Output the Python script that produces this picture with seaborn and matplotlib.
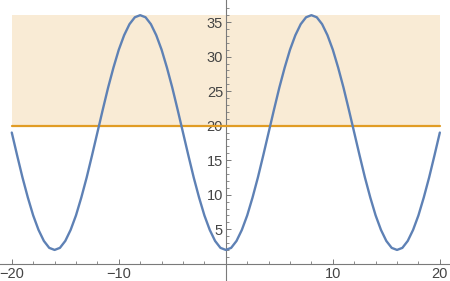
import matplotlib
matplotlib.use("Agg")
import matplotlib.pyplot as plt
import seaborn as sns
import numpy as np
import pandas as pd
from matplotlib.ticker import FixedLocator

# Curve samples, x from -20 to 20 in steps of 0.5
x_start, x_step = -20.0, 0.5
curve_y = [
    19.0, 15.7, 12.5, 9.6, 7.0, 4.9, 3.3, 2.3, 2.0, 2.3, 3.3, 4.9, 7.0, 9.6, 12.5, 15.7,
    19.0, 22.3, 25.5, 28.4, 31.0, 33.1, 34.7, 35.7, 36.0, 35.7, 34.7, 33.1, 31.0, 28.4, 25.5, 22.3,
    19.0, 15.7, 12.5, 9.6, 7.0, 4.9, 3.3, 2.3, 2.0, 2.3, 3.3, 4.9, 7.0, 9.6, 12.5, 15.7,
    19.0, 22.3, 25.5, 28.4, 31.0, 33.1, 34.7, 35.7, 36.0, 35.7, 34.7, 33.1, 31.0, 28.4, 25.5, 22.3,
    19.0, 15.7, 12.5, 9.6, 7.0, 4.9, 3.3, 2.3, 2.0, 2.3, 3.3, 4.9, 7.0, 9.6, 12.5, 15.7,
    19.0,
]
curve_x = [x_start + i * x_step for i in range(len(curve_y))]

threshold = 20.0
band_top = 36.0
band_x = [-20.0, 20.0]

x_major = [-20, -10, 10, 20]
x_labels = ["\u221220", "\u221210", "10", "20"]
y_major = [5, 10, 15, 20, 25, 30, 35]
y_labels = ["5", "10", "15", "20", "25", "30", "35"]

BLUE = "#5E81B5"
ORANGE = "#E19C24"
FILL = "#F9EBD5"
AXIS = "#7a7a7a"
TEXT = "#444444"

sns.set_theme(style="white")
plt.rcParams["font.family"] = ["Liberation Sans", "DejaVu Sans"]

fig = plt.figure(figsize=(4.5, 2.81), dpi=100)
ax = fig.add_axes([0, 0, 1, 1])
ax.set_facecolor("white")
ax.set_axisbelow(False)

ax.fill_between(band_x, [threshold, threshold], [band_top, band_top],
                color=FILL, linewidth=0, zorder=1)

df_curve = pd.DataFrame({"x": curve_x, "y": curve_y})
df_line = pd.DataFrame({"x": band_x, "y": [threshold, threshold]})
sns.lineplot(data=df_line, x="x", y="y", ax=ax, color=ORANGE, linewidth=1.6, zorder=3)
sns.lineplot(data=df_curve, x="x", y="y", ax=ax, color=BLUE, linewidth=1.7, zorder=3)

ax.set_xlim(-21.1, 20.95)
ax.set_ylim(-2.5, 38.2)
ax.set_xlabel("")
ax.set_ylabel("")

for s in ["top", "right"]:
    ax.spines[s].set_visible(False)
ax.spines["left"].set_position(("data", 0))
ax.spines["bottom"].set_position(("data", 0))
for s in ["left", "bottom"]:
    ax.spines[s].set_color(AXIS)
    ax.spines[s].set_linewidth(0.8)
    ax.spines[s].set_zorder(2.5)

ax.xaxis.set_major_locator(FixedLocator(x_major))
ax.set_xticklabels(x_labels)
ax.xaxis.set_minor_locator(FixedLocator([v for v in range(-20, 21, 2) if v % 10 != 0]))
ax.yaxis.set_major_locator(FixedLocator(y_major))
ax.set_yticklabels(y_labels)
ax.yaxis.set_minor_locator(FixedLocator([v for v in range(1, 38) if v % 5 != 0]))

ax.tick_params(axis="both", which="major", direction="in", length=3.5, width=0.7,
               color=AXIS, labelcolor=TEXT, labelsize=10.5, pad=2,
               bottom=True, left=True)
ax.tick_params(axis="both", which="minor", direction="in", length=2, width=0.6,
               color=AXIS, bottom=True, left=True)

fig.savefig("out.png", dpi=100)
